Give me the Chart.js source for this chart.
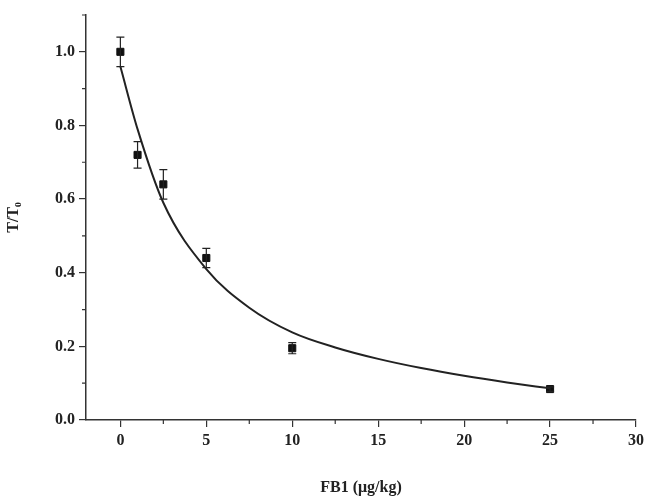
<!DOCTYPE html>
<html>
<head>
<meta charset="utf-8">
<script src="https://cdn.jsdelivr.net/npm/chart.js@4"></script>
<style>
html, body { margin: 0; padding: 0; background: #fff; }
#wrap { width: 660px; height: 501px; }
</style>
</head>
<body>
<div id="wrap"><canvas id="c"></canvas></div>
<script>
// measured points
const doseX = [0, 1, 2.5, 5, 10, 25];
const ratioY = [1.0, 0.72, 0.64, 0.44, 0.195, 0.084];
const errY = [0.04, 0.036, 0.04, 0.026, 0.015, 0.006];

// fitted curve
const fitX = [0, 1, 2.5, 5, 7.5, 10, 12.5, 15, 17.5, 20, 22.5, 25];
const fitY = [0.96, 0.79, 0.59, 0.41, 0.305, 0.238, 0.197, 0.166, 0.141, 0.12, 0.102, 0.086];

const FONT = 'Liberation Serif';

const errorBars = {
  id: 'errorBars',
  afterDatasetsDraw(chart) {
    const {ctx, scales: {x, y}} = chart;
    ctx.save();
    ctx.strokeStyle = '#222';
    ctx.lineWidth = 1.2;
    doseX.forEach((v, i) => {
      const px = x.getPixelForValue(v);
      const top = y.getPixelForValue(ratioY[i] + errY[i]);
      const bot = y.getPixelForValue(ratioY[i] - errY[i]);
      ctx.beginPath();
      ctx.moveTo(px, top); ctx.lineTo(px, bot);
      ctx.moveTo(px - 4, top); ctx.lineTo(px + 4, top);
      ctx.moveTo(px - 4, bot); ctx.lineTo(px + 4, bot);
      ctx.stroke();
    });
    ctx.restore();
  }
};

const minorTicks = {
  id: 'minorTicks',
  afterDraw(chart) {
    const {ctx, scales: {x, y}, chartArea: a} = chart;
    ctx.save();
    ctx.strokeStyle = '#333';
    ctx.lineWidth = 1.2;
    ctx.beginPath();
    for (let v = 2.5; v < 30; v += 5) {
      const px = x.getPixelForValue(v);
      ctx.moveTo(px, a.bottom); ctx.lineTo(px, a.bottom + 4);
    }
    for (let v = 0.1; v < 1.1; v += 0.2) {
      const py = y.getPixelForValue(v);
      ctx.moveTo(a.left, py); ctx.lineTo(a.left - 4, py);
    }
    ctx.stroke();
    ctx.restore();
  }
};

new Chart(document.getElementById('c'), {
  type: 'scatter',
  data: {
    datasets: [{
      type: 'line',
      label: 'fit',
      data: fitX.map((v, i) => ({x: v, y: fitY[i]})),
      borderColor: '#222',
      borderWidth: 2,
      pointRadius: 0,
      cubicInterpolationMode: 'monotone',
      fill: false
    }, {
      label: 'T/T0',
      data: doseX.map((v, i) => ({x: v, y: ratioY[i]})),
      backgroundColor: '#111',
      borderColor: '#111',
      pointStyle: 'rect',
      pointRadius: 5
    }]
  },
  options: {
    responsive: true,
    maintainAspectRatio: false,
    animation: false,
    layout: { padding: { top: 15, right: 24 } },
    plugins: { legend: { display: false }, tooltip: { enabled: false } },
    scales: {
      x: {
        min: -2, max: 30,
        afterBuildTicks: s => { s.ticks = [0, 5, 10, 15, 20, 25, 30].map(v => ({value: v})); },
        afterFit: s => { s.height = 81; },
        border: { color: '#333', width: 1.5 },
        grid: { drawOnChartArea: false, color: '#333', tickLength: 7, lineWidth: 1.2 },
        ticks: { color: '#222', font: { family: FONT, size: 16, weight: 'bold' }, padding: 4 },
        title: { display: true, text: 'FB1 (μg/kg)', color: '#222', font: { family: FONT, size: 16, weight: 'bold' }, padding: { top: 10 } }
      },
      y: {
        min: 0, max: 1.1,
        afterBuildTicks: s => { s.ticks = [0, 0.2, 0.4, 0.6, 0.8, 1.0].map(v => ({value: v})); },
        afterFit: s => { s.width = 86; },
        border: { color: '#333', width: 1.5 },
        grid: { drawOnChartArea: false, color: '#333', tickLength: 7, lineWidth: 1.2 },
        ticks: { color: '#222', font: { family: FONT, size: 16, weight: 'bold' }, padding: 4, callback: v => v.toFixed(1) },
        title: { display: true, text: 'T/T₀', color: '#222', font: { family: FONT, size: 16, weight: 'bold' }, padding: { bottom: 6 } }
      }
    }
  },
  plugins: [errorBars, minorTicks]
});
</script>
</body>
</html>
